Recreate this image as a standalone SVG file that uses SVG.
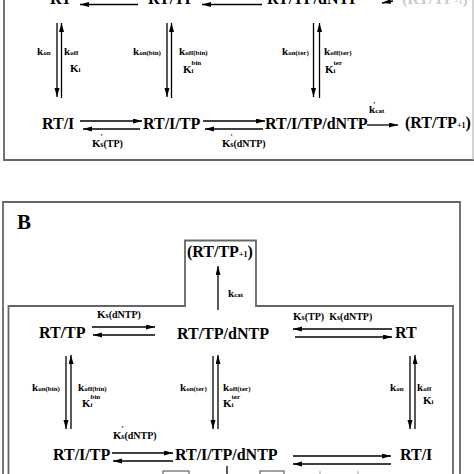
<svg xmlns="http://www.w3.org/2000/svg" width="474" height="474" viewBox="0 0 474 474">
<style>
text{font-family:"Liberation Serif","Times New Roman",serif;font-weight:bold;fill:#000}
.n{font-size:16px}
.l{font-size:11px}
.s{font-size:7px}
.m{font-size:8px}
.p{font-size:10px}
.c line{stroke:#000;stroke-width:1.3}
.b{fill:none;stroke:#666;stroke-width:1.8}
</style>
<defs>
<marker id="ah" markerUnits="userSpaceOnUse" markerWidth="10" markerHeight="6" refX="9" refY="2.5" orient="auto">
<path d="M0,0 L9,2.5 L0,5 z" fill="#000"/>
</marker>
</defs>
<rect width="474" height="474" fill="#fff"/>
<g id="frames">
<path class="b" d="M4,-2 V160 H476"/>
<line x1="473" y1="0" x2="473" y2="160" stroke="#aaa" stroke-width="1"/>
<path class="b" d="M3,476 V202 H460 V476"/>
<path class="b" d="M8.5,476 V306 H185 V240.5 H256 V306 H453 V476"/>
<rect x="163" y="471" width="26" height="10" fill="none" stroke="#444" stroke-width="1"/>
<rect x="260" y="471" width="24" height="10" fill="none" stroke="#444" stroke-width="1"/>
<line x1="320" y1="471" x2="320" y2="474" stroke="#999" stroke-width="1"/>
<line x1="358" y1="471" x2="358" y2="474" stroke="#999" stroke-width="1"/>
</g>
<g id="panelA">
<g id="a_rt"><text class="n" x="50" y="4">RT</text></g>
<g id="a_rttp"><text class="n" x="148" y="4">RT/TP</text></g>
<g id="a_rttpdntp"><text class="n" x="267" y="4">RT/TP/dNTP</text></g>
<g id="a_prod_top"><text class="n" x="402" y="4" style="fill:#ccc">(RT/TP<tspan class="m">+1</tspan>)</text></g>
<g id="a_rti"><text class="n" x="42" y="129">RT/I</text></g>
<g id="a_rtitp"><text class="n" x="143" y="129">RT/I/TP</text></g>
<g id="a_rtitpdntp"><text class="n" x="265" y="129">RT/I/TP/dNTP</text></g>
<g id="a_prod"><text class="n" x="405" y="128">(RT/TP<tspan class="m">+1</tspan>)</text></g>
</g>
<g id="panelB">
<text x="17" y="229" style="font-size:21px">B</text>
<g id="b_prod"><text class="n" x="187" y="257">(RT/TP<tspan class="m">+1</tspan>)</text></g>
<g id="b_rttp"><text class="n" x="39" y="338">RT/TP</text></g>
<g id="b_rttpdntp"><text class="n" x="177" y="339">RT/TP/dNTP</text></g>
<g id="b_rt"><text class="n" x="395" y="338">RT</text></g>
<g id="b_rtitp"><text class="n" x="53" y="460">RT/I/TP</text></g>
<g id="b_rtitpdntp"><text class="n" x="175" y="460">RT/I/TP/dNTP</text></g>
<g id="b_rti"><text class="n" x="400" y="460">RT/I</text></g>
</g>
<g class="c" id="connectors">
<line x1="138" y1="4.5" x2="80" y2="4.5" marker-end="url(#ah)"/>
<line x1="262" y1="4.5" x2="202" y2="4.5" marker-end="url(#ah)"/>
<line x1="393" y1="1" x2="382" y2="3" marker-end="url(#ah)"/>
<line x1="57" y1="23" x2="57" y2="97" marker-end="url(#ah)"/>
<line x1="61.5" y1="98" x2="61.5" y2="23" marker-end="url(#ah)"/>
<line x1="167" y1="23" x2="167" y2="97" marker-end="url(#ah)"/>
<line x1="171.5" y1="98" x2="171.5" y2="23" marker-end="url(#ah)"/>
<line x1="313.5" y1="23" x2="313.5" y2="97" marker-end="url(#ah)"/>
<line x1="319.5" y1="98" x2="319.5" y2="23" marker-end="url(#ah)"/>
<line x1="80" y1="121" x2="142" y2="121" marker-end="url(#ah)"/>
<line x1="140" y1="129" x2="83" y2="129" marker-end="url(#ah)"/>
<line x1="203" y1="121" x2="265" y2="121" marker-end="url(#ah)"/>
<line x1="263" y1="129" x2="205" y2="129" marker-end="url(#ah)"/>
<line x1="367" y1="125" x2="398" y2="125" marker-end="url(#ah)"/>
<line x1="218" y1="310" x2="218" y2="266" marker-end="url(#ah)"/>
<line x1="92" y1="327" x2="155" y2="327" marker-end="url(#ah)"/>
<line x1="155" y1="335" x2="93" y2="335" marker-end="url(#ah)"/>
<line x1="392" y1="329" x2="293" y2="329" marker-end="url(#ah)"/>
<line x1="295" y1="337" x2="392" y2="337" marker-end="url(#ah)"/>
<line x1="66" y1="356" x2="66" y2="429" marker-end="url(#ah)"/>
<line x1="71" y1="429" x2="71" y2="355" marker-end="url(#ah)"/>
<line x1="213" y1="356" x2="213" y2="429" marker-end="url(#ah)"/>
<line x1="218" y1="429" x2="218" y2="355" marker-end="url(#ah)"/>
<line x1="410" y1="356" x2="410" y2="429" marker-end="url(#ah)"/>
<line x1="415" y1="429" x2="415" y2="355" marker-end="url(#ah)"/>
<line x1="112" y1="453" x2="173" y2="453" marker-end="url(#ah)"/>
<line x1="173" y1="461" x2="113" y2="461" marker-end="url(#ah)"/>
<line x1="293" y1="456" x2="391" y2="456" marker-end="url(#ah)"/>
<line x1="391" y1="464" x2="293" y2="464" marker-end="url(#ah)"/>
<line x1="227" y1="466" x2="227" y2="476"/>
</g>
<g id="labels">
<text class="l" x="37" y="55">k<tspan class="s">on</tspan></text>
<text class="l" x="64" y="55">k<tspan class="s">off</tspan></text>
<text class="l" x="70" y="72">K<tspan class="s">i</tspan></text>
<text class="l" x="133" y="55">k<tspan class="s">on(bin)</tspan></text>
<text class="l" x="179" y="55">k<tspan class="s">off(bin)</tspan></text>
<text class="l" x="183" y="73">K<tspan class="s">i</tspan><tspan class="s" dx="-2" dy="-8">bin</tspan></text>
<text class="l" x="282" y="55">k<tspan class="s">on(ter)</tspan></text>
<text class="l" x="324" y="55">k<tspan class="s">off(ter)</tspan></text>
<text class="l" x="325" y="73">K<tspan class="s">i</tspan><tspan class="s" dx="-2" dy="-8">ter</tspan></text>
<text class="l" x="92" y="147">K<tspan class="m" dy="-7">'</tspan><tspan class="m" dx="-2.5" dy="7">s</tspan><tspan class="p">(TP)</tspan></text>
<text class="l" x="222" y="147">K<tspan class="m" dy="-7">'</tspan><tspan class="m" dx="-2.5" dy="7">s</tspan><tspan class="p">(dNTP)</tspan></text>
<text class="l" x="369" y="113">k<tspan class="m" dy="-5" dx="-2">'</tspan><tspan class="s" dy="5">cat</tspan></text>
<text class="l" x="228" y="297">k<tspan class="s">cat</tspan></text>
<text class="l" x="97" y="318">K<tspan class="m">s</tspan><tspan class="p">(dNTP)</tspan></text>
<text class="l" x="293" y="320">K<tspan class="m">s</tspan><tspan class="p">(TP)</tspan><tspan class="p" dx="5">K</tspan><tspan class="m">s</tspan><tspan class="p">(dNTP)</tspan></text>
<text class="l" x="32" y="391">k<tspan class="s">on(bin)</tspan></text>
<text class="l" x="78" y="391">k<tspan class="s">off(bin)</tspan></text>
<text class="l" x="82" y="407">K<tspan class="s">i</tspan><tspan class="s" dx="-2" dy="-8">bin</tspan></text>
<text class="l" x="180" y="391">k<tspan class="s">on(ter)</tspan></text>
<text class="l" x="223" y="391">k<tspan class="s">off(ter)</tspan></text>
<text class="l" x="223" y="407">K<tspan class="s">i</tspan><tspan class="s" dx="-2" dy="-8">ter</tspan></text>
<text class="l" x="390" y="391">k<tspan class="s">on</tspan></text>
<text class="l" x="417" y="391">k<tspan class="s">off</tspan></text>
<text class="l" x="423" y="404">K<tspan class="s">i</tspan></text>
<text class="l" x="113" y="439">K<tspan class="m" dy="-7">'</tspan><tspan class="m" dx="-2.5" dy="7">s</tspan><tspan class="p">(dNTP)</tspan></text>
</g>
</svg>
